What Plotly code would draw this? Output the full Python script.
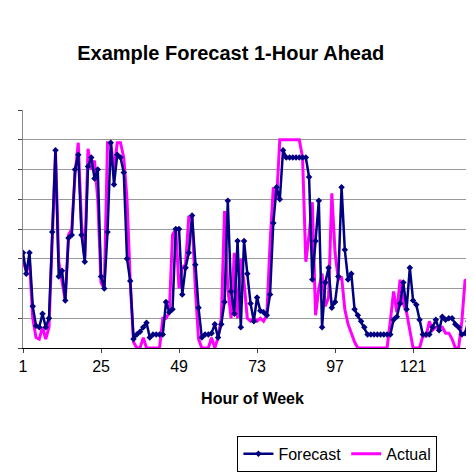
import plotly.graph_objects as go

hours = list(range(1, 143))
forecast = [3.2,2.5,3.2,1.4,0.75,0.7,1.15,0.7,1.0,3.9, 6.65,2.4,2.6,1.6,3.7,3.8,6.0,6.5,3.8,2.9,
 6.1,6.4,5.7,6.0,2.4,2.0,3.9,6.9,5.5,6.5, 6.4,5.9,3.0,2.25,0.3,0.45,0.55,0.7,0.85,0.35,
 0.45,0.45,0.45,0.45,1.55,1.2,1.3,4.0,4.0,1.8, 2.7,3.2,4.45,2.8,1.35,0.35,0.45,0.45,0.5,0.8,
 0.35,0.8,1.55,4.95,1.9,1.15,3.6,0.7,3.6,2.5, 1.5,0.9,1.7,1.25,1.2,1.1,1.8,4.2,5.4,5.0,
 6.65,6.4,6.4,6.4,6.4,6.4,6.4,6.4,5.75,2.3, 3.6,4.95,0.7,2.2,2.7,1.35,1.55,2.4,5.4,3.3,
 2.3,2.5,1.3,1.1,0.9,0.7,0.45,0.45,0.45,0.45, 0.45,0.45,0.45,0.45,0.95,1.05,1.5,2.2,1.3,2.7,
 1.6,1.45,0.95,0.45,0.45,0.45,0.7,0.95,0.6,1.05, 0.95,1.0,1.0,0.8,0.7,0.45,0.5,0.9,2.15,2.6,
 2.4,2.25]
actual = [2.9,2.6,2.9,1.0,0.35,0.3,0.7,0.3,0.7,3.5, 6.6,2.9,2.3,1.6,3.8,4.0,5.8,6.9,4.2,3.0,
 6.7,6.0,6.3,5.0,2.2,2.0,6.9,6.9,6.0,6.9, 6.9,6.4,5.0,2.2,0.2,0.0,0.0,0.35,0.0,0.0,
 0.0,0.0,0.0,1.0,1.0,1.2,3.8,4.0,2.0,2.7, 2.8,4.4,4.4,2.0,0.3,0.0,0.0,0.0,0.35,0.0,
 0.35,1.0,4.6,2.0,1.0,3.2,1.0,3.0,2.2,1.0, 0.9,1.0,0.9,1.0,0.9,1.1,3.5,5.4,5.0,7.0,
 7.0,7.0,7.0,7.0,7.0,7.0,6.4,2.9,3.8,4.9, 1.1,2.0,2.5,1.4,1.7,5.2,3.2,2.3,2.4,1.3,
 0.8,0.5,0.2,0,0,0,0,0,0,0, 0,0,0,0.9,1.9,1.2,2.3,1.5,1.2,0.6,
 0,0,0,0.4,0.4,0.9,0.6,0.7,0.7,0.7, 0.5,0.5,0.3,0,0,0.9,2.3,2.2,1.9,1.6,
 1.6,1.5]
tick_vals = [1, 25, 49, 73, 97, 121, 145]

fig = go.Figure()
fig.add_trace(go.Scatter(x=hours, y=actual, name="Actual", mode="lines",
                         line=dict(color="#FF00FF", width=3), legendrank=2))
fig.add_trace(go.Scatter(x=hours, y=forecast, name="Forecast", mode="lines+markers",
                         line=dict(color="#000080", width=2.5),
                         marker=dict(symbol="diamond", size=5, color="#000080"), legendrank=1))
fig.update_layout(
    width=474, height=474, plot_bgcolor="white", paper_bgcolor="white",
    margin=dict(l=15, r=0, t=102, b=134, autoexpand=False),
    font=dict(family="Arial, Liberation Sans", color="black"),
    title=dict(text="<b>Example Forecast 1-Hour Ahead</b>", x=0.47, xanchor="center",
               y=0.905, yanchor="middle", font=dict(size=20)),
    showlegend=True,
    legend=dict(orientation="h", x=0.685, xanchor="center", y=-0.445, yanchor="middle",
                bordercolor="black", borderwidth=1, font=dict(size=16)),
)
fig.update_xaxes(range=[1, 142.2], tickvals=tick_vals, showgrid=False, showline=True,
                 linecolor="black", ticks="outside", ticklen=4, tickfont=dict(size=16),
                 automargin=False,
                 title=dict(text="<b>Hour of Week</b>", font=dict(size=16), standoff=18))
fig.update_yaxes(range=[0, 8], dtick=1, showgrid=True, gridcolor="#999999", showline=True,
                 linecolor="#888888", showticklabels=False, ticks="outside", ticklen=4,
                 zeroline=False, automargin=False)
fig.write_html("out.html")
